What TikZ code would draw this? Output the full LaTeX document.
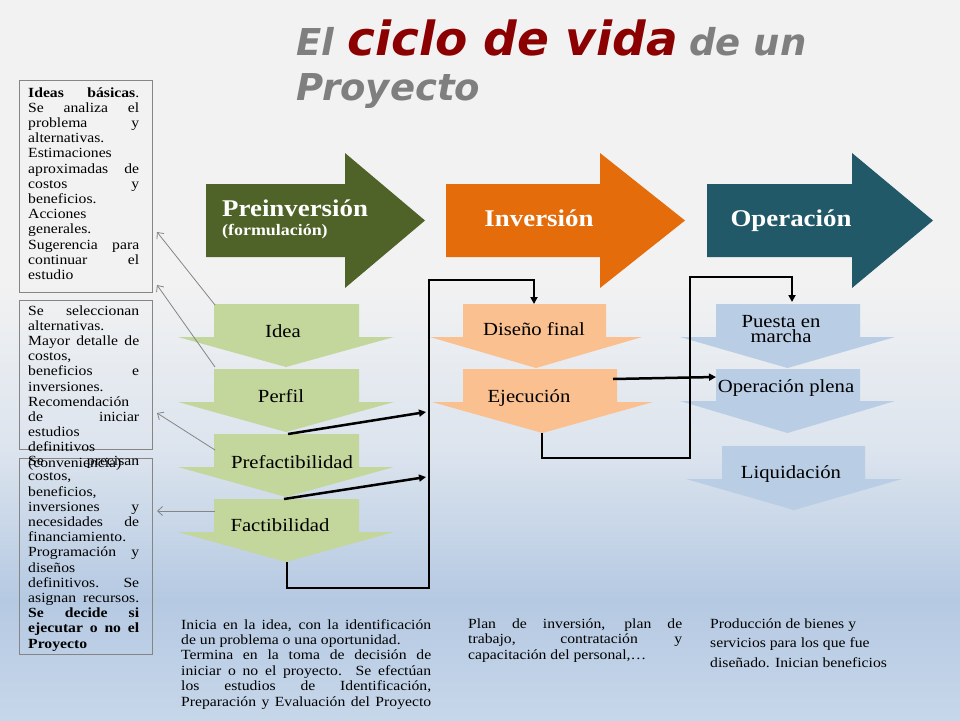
\documentclass[tikz,border=0pt]{standalone}
\usepackage{fontspec}
\setmainfont{Liberation Serif}[FakeStretch=1.12]
\newfontfamily\titlefont{DejaVu Sans}
\usetikzlibrary{arrows.meta}
\definecolor{bgT}{HTML}{F2F2F2}
\definecolor{bgM}{HTML}{DCE4EE}
\definecolor{bgB}{HTML}{B5C9E2}
\definecolor{bgC}{HTML}{C7D7EA}
\definecolor{grn}{HTML}{4F6228}
\definecolor{org}{HTML}{E46C0A}
\definecolor{tea}{HTML}{215968}
\definecolor{lgrn}{HTML}{C3D69B}
\definecolor{lorg}{HTML}{FAC090}
\definecolor{lblu}{HTML}{B9CDE5}
\definecolor{ttlgray}{HTML}{7F7F7F}
\definecolor{ttlred}{HTML}{8B0000}
\definecolor{lngray}{HTML}{858585}
\pgfdeclareverticalshading{bgshade}{100bp}{color(0bp)=(bgC); color(25bp)=(bgC); color(33.33bp)=(bgB); color(43.75bp)=(bgM); color(55.5bp)=(bgT); color(75bp)=(bgT); color(100bp)=(bgT)}
\newcommand\J[2][111pt]{\makebox[#1][s]{#2}}
\newcommand\chev[8]{\fill[#1] (#2,#4) -- (#3,#4) -- (#3,#5) -- (#7,#5) -- ({(#6+#7)/2},#8) -- (#6,#5) -- (#2,#5) -- cycle;}
\newcommand\bigarr[4]{\fill[#1] (#2,184) -- (#3,184) -- (#3,153) -- (#4,220.5) -- (#3,288) -- (#3,257) -- (#2,257) -- cycle;}
\tikzset{
  boxtext/.style={anchor=base west, inner sep=0pt, align=left, font=\fontsize{14}{15.2}\selectfont},
  infobox/.style={draw=lngray, line width=1pt, inner sep=0pt, anchor=north west},
  chevtext/.style={anchor=base, inner sep=0pt, font=\fontsize{18.5}{15}\selectfont},
  bigtext/.style={inner sep=0pt, text=white, font=\fontsize{24}{24}\selectfont\bfseries},
  ttlg/.style={anchor=base west, inner sep=0pt, text=ttlgray, font=\titlefont\bfseries\itshape\fontsize{37}{37}\selectfont},
  ttlr/.style={anchor=base west, inner sep=0pt, text=ttlred, font=\titlefont\bfseries\itshape\fontsize{47}{47}\selectfont},
  conn/.style={line width=2.5pt, black, line join=miter, -{Triangle[length=7pt,width=7pt]}},
  pointer/.style={line width=0.8pt, lngray, -{Straight Barb[length=5pt,width=9pt]}},
}
\begin{document}
\begin{tikzpicture}[x=1pt,y=-1pt]
\useasboundingbox (0,0) rectangle (960,720);
\fill[shading=bgshade] (0,0) rectangle (960,720);
% title
\node[ttlg] (tEl) at (296,55) {El};
\node[ttlr] (tCiclo) at (347,55) {ciclo de vida};
\node[ttlg] (tDeun) at (689,55) {de un};
\node[ttlg] (tProy) at (296,100) {Proyecto};
% big arrows
\bigarr{grn}{206}{345}{425}
\bigarr{org}{446}{600}{685}
\bigarr{tea}{707}{852}{933}
\node[bigtext, anchor=base west] (pre) at (222,216) {Preinversión};
\node[bigtext, anchor=base west, font=\fontsize{16}{16}\selectfont\bfseries] (form) at (222,235) {(formulación)};
\node[bigtext, anchor=base] (inv) at (539,226) {Inversión};
\node[bigtext, anchor=base] (ope) at (791,226) {Operación};
% green chevrons
\chev{lgrn}{214}{359}{304}{337}{178}{394}{367}
\chev{lgrn}{214}{359}{369}{402}{178}{394}{432}
\chev{lgrn}{214}{359}{434}{467}{178}{394}{497}
\chev{lgrn}{214}{359}{499}{532}{178}{394}{562}
% orange chevrons
\chev{lorg}{463}{606}{304}{337}{430}{642}{368}
\chev{lorg}{463}{617}{369}{402}{432}{653}{433}
% blue chevrons
\chev{lblu}{716}{860}{304}{337}{680}{895}{368}
\chev{lblu}{716}{860}{369}{401}{680}{895}{433}
\chev{lblu}{722}{865}{446}{479}{686}{902}{510}
% chevron labels
\node[chevtext] (idea) at (283,337) {Idea};
\node[chevtext] (perfil) at (281,402) {Perfil};
\node[chevtext] (prefact) at (292,468) {Prefactibilidad};
\node[chevtext] (fact) at (280,531) {Factibilidad};
\node[chevtext] (disfin) at (534,335) {Diseño final};
\node[chevtext] (ejec) at (529,402) {Ejecución};
\node[chevtext, align=center] (puesta) at (781,342) {Puesta en\\marcha};
\node[chevtext] (opplena) at (786,392) {Operación plena};
\node[chevtext] (liq) at (791,478) {Liquidación};
% left boxes
\node[infobox, minimum width=133pt, minimum height=212pt] (box1) at (19,80) {};
\node[infobox, minimum width=133pt, minimum height=149pt] (box2) at (19,300) {};
\node[infobox, minimum width=133pt, minimum height=196pt] (box3) at (19,458) {};
% multi-line texts: anchored at the baseline of their last line
\node[boxtext] (txt1) at (28,279.5) {\J{\textbf{Ideas básicas}.}\\\J{Se analiza el}\\\J{problema y}\\alternativas.\\Estimaciones\\\J{aproximadas de}\\\J{costos y}\\beneficios.\\Acciones\\generales.\\\J{Sugerencia para}\\\J{continuar el}\\estudio};
\node[boxtext] (txt2) at (28,467) {\J{Se seleccionan}\\alternativas.\\\J{Mayor detalle de}\\costos,\\\J{beneficios e}\\inversiones.\\Recomendación\\\J{de iniciar}\\estudios\\definitivos\\(conveniencia)};
\node[boxtext] (txt3) at (28,648) {\J{Se precisan}\\costos,\\beneficios,\\\J{inversiones y}\\\J{necesidades de}\\financiamiento.\\\J{Programación y}\\diseños\\\J{definitivos. Se}\\\J{asignan recursos.}\\\J{\textbf{Se decide si}}\\\J{\textbf{ejecutar o no el}}\\\textbf{Proyecto}};
% bottom texts
\node[boxtext, font=\fontsize{14}{15.4}\selectfont] (bt1) at (181,706) {\J[250pt]{Inicia en la idea, con la identificación}\\de un problema o una oportunidad.\\\J[250pt]{Termina en la toma de decisión de}\\\J[250pt]{iniciar o no el proyecto. Se efectúan}\\\J[250pt]{los estudios de Identificación,}\\\J[250pt]{Preparación y Evaluación del Proyecto}};
\node[boxtext] (bt2) at (468,659) {\J[214pt]{Plan de inversión, plan de}\\\J[214pt]{trabajo, contratación y}\\capacitación del personal,…};
\node[boxtext, font=\fontsize{14}{19.5}\selectfont] (bt3) at (710,667) {Producción de bienes y\\servicios para los que fue\\diseñado. Inician beneficios};
% coordinates for connectors
\coordinate (facttip) at (287,562);
\coordinate (j1) at (429,588);
\coordinate (j2) at (429,280);
\coordinate (dftop) at (534,304);
\coordinate (ejtip) at (542,433);
\coordinate (j3) at (690,458);
\coordinate (j4) at (690,277);
\coordinate (pmtop) at (792,302);
\coordinate (ejR) at (613,379);
\coordinate (opL) at (716,377);
\coordinate (perfB) at (288,434);
\coordinate (e1) at (426,412);
\coordinate (prefB) at (284,499);
\coordinate (e2) at (426,477);
% black connectors
\draw[conn] (facttip) |- (j1) -- (j2) -| (dftop);
\draw[conn] (ejtip) |- (j3) -- (j4) -| (pmtop);
\draw[conn] (ejR) -- (opL);
\draw[conn] (perfB) -- (e1);
\draw[conn] (prefB) -- (e2);
% gray pointers
\coordinate (ideaL) at (215,305);
\coordinate (perfL) at (215,367);
\coordinate (prefL) at (215,450);
\coordinate (factL) at (215,511);
\coordinate (p1) at (157,232);
\coordinate (p2) at (157,285);
\coordinate (p3) at (157,413);
\coordinate (p4) at (157,511);
\draw[pointer] (ideaL) -- (p1);
\draw[pointer] (perfL) -- (p2);
\draw[pointer] (prefL) -- (p3);
\draw[pointer] (factL) -- (p4);
\end{tikzpicture}
\end{document}
